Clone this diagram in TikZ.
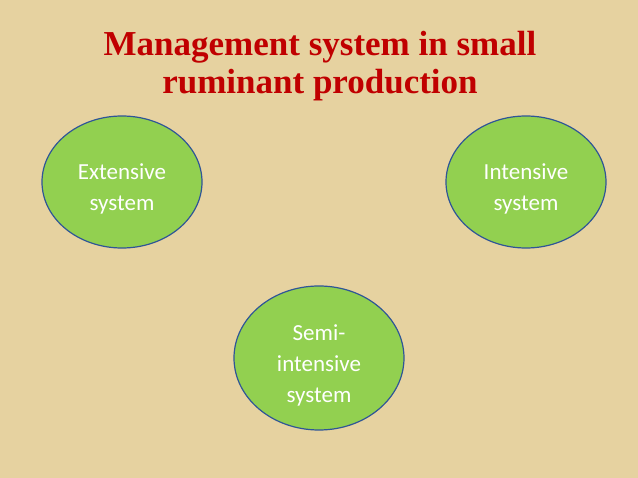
\documentclass[tikz,border=0pt]{standalone}
\usepackage{fontspec}
\setmainfont{Carlito}
\newfontfamily\titlefont{Liberation Serif}
\usetikzlibrary{shapes.geometric}
\definecolor{bgc}{RGB}{230,210,160}
\definecolor{grn}{RGB}{146,208,80}
\definecolor{ttlred}{RGB}{192,0,0}
\definecolor{edge}{RGB}{47,85,151}
\begin{document}
\begin{tikzpicture}[x=1pt,y=-1pt,
  sysnode/.style={ellipse,draw=edge,line width=1.2pt,fill=grn,text=white,font=\fontsize{23}{31}\selectfont,align=center,inner sep=0pt},
  ttl/.style={text=ttlred,font=\titlefont\bfseries\fontsize{35}{38}\selectfont,align=center}]
\fill[bgc] (0,0) rectangle (638,478);
\useasboundingbox (0,0) rectangle (638,478);
\node[ttl] (title) at (320,66) {Management system in small\\ruminant production};
\node[sysnode,minimum width=160,minimum height=132] (ext) at (122,182) {\strut\\[-22pt]Extensive\\system};
\node[sysnode,minimum width=160,minimum height=132] (int) at (526,182) {\strut\\[-22pt]Intensive\\system};
\node[sysnode,minimum width=170,minimum height=144] (semi) at (319,358) {\strut\\[-22pt]Semi-\\intensive\\system};
\end{tikzpicture}
\end{document}
